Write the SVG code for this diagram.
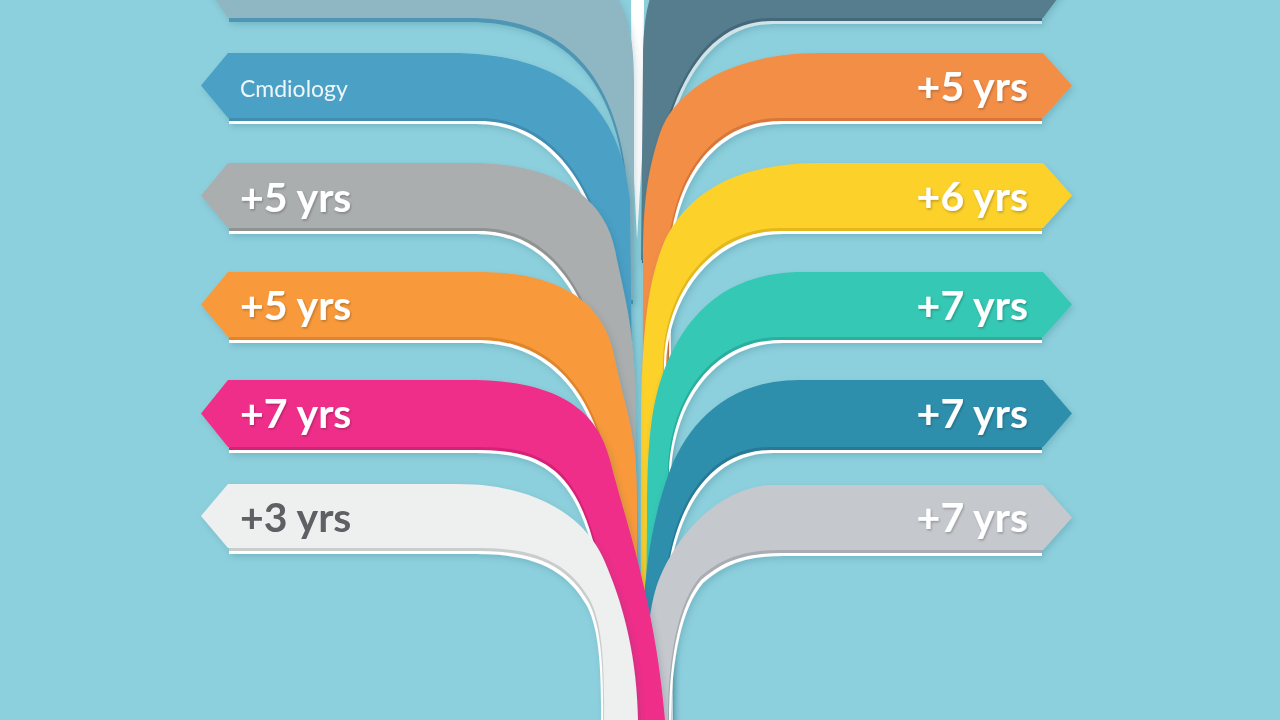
<svg xmlns="http://www.w3.org/2000/svg" xmlns:xlink="http://www.w3.org/1999/xlink" width="1280" height="720" viewBox="0 0 1280 720">
<style>
.lbl{font-family:Lato,"Open Sans","Liberation Sans",sans-serif;font-size:41px;font-weight:700;fill:#ffffff}
.small{font-size:23px;font-weight:400;fill:#eef6f9}
.dark{fill:#5e6063}
.hl{fill:#ffffff}
</style>
<defs>
<clipPath id="cL"><rect x="229" y="-100" width="600" height="900"/></clipPath>
<clipPath id="cR"><rect x="400" y="-100" width="642" height="900"/></clipPath>
<filter id="sh" x="-10%" y="-10%" width="120%" height="130%">
<feDropShadow dx="2" dy="3" stdDeviation="3" flood-color="#0a4a5a" flood-opacity="0.18"/>
</filter>
<filter id="tsh" x="-5%" y="-10%" width="110%" height="130%">
<feDropShadow dx="1" dy="1.5" stdDeviation="1" flood-color="#000" flood-opacity="0.25"/>
</filter>
<path id="pL0" d="M201,-21 L228,-60 L400,-60 C590,-60 634,-30 634,80 L634,300 L628,300 L628,200 C624,110 590,18 470,18 L228,18 Z"/>
<path id="pL1" d="M201,85.5 L228,53 L450,53 C560,53 620,100 630,200 L636,720 L614,720 L612,300 C608,200 560,118 480,118 L228,118 Z"/>
<path id="pL2" d="M201,195.5 L228,163 L470,163 C560,163 605,200 615,250 C625,300 636,330 636,420 L636,720 L612,720 L610,420 C606,330 570,228 480,228 L228,228 Z"/>
<path id="pL3" d="M201,304.5 L228,272 L480,272 C570,272 607,310 615,360 C625,410 637,430 637,500 L637,720 L614,720 L612,500 C608,420 570,337 480,337 L228,337 Z"/>
<path id="pL4" d="M201,413.5 L228,380 L470,380 C570,380 600,420 610,460 C625,520 655,600 665,720 L620,720 C615,620 600,540 580,500 C560,460 530,447 480,447 L228,447 Z"/>
<path id="pL5" d="M201,516 L228,484 L457,484 C540,484 590,520 607,567 C625,610 637,660 638,720 L604,720 C605,650 600,620 590,600 C570,565 540,548 480,548 L228,548 Z"/>
<path id="pR0" d="M1072,-21 L1043,-60 L760,-60 C670,-60 643,-30 643,60 L641,260 L650,260 C650,120 690,18 770,18 L1043,18 Z"/>
<path id="pR1" d="M1072,85.5 L1043,53 L820,53 C730,53 675,90 660,133 C648,170 643,200 643,260 L642,720 L668,720 L668,260 C670,180 710,118 780,118 L1043,118 Z"/>
<path id="pR2" d="M1072,195.5 L1043,163 L820,163 C740,163 690,190 665,240 C648,280 642,330 641,420 L641,720 L665,720 L663,360 C665,290 710,228 780,228 L1043,228 Z"/>
<path id="pR3" d="M1072,304.5 L1043,272 L803,272 C740,272 690,300 663,373 C650,410 647,450 647,520 L645,720 L670,720 L668,470 C670,400 710,337 780,337 L1043,337 Z"/>
<path id="pR4" d="M1072,413.5 L1043,380 L800,380 C730,380 690,420 670,470 C655,510 645,560 643,620 L643,720 L668,720 L665,590 C668,520 700,447 770,447 L1043,447 Z"/>
<path id="pR5" d="M1072,517.5 L1043,485 L767,485 C720,490 680,530 660,577 C650,600 645,640 643,720 L668,720 C668,650 680,600 700,577 C720,560 740,550 780,550 L1043,550 Z"/>
</defs>
<rect width="1280" height="720" fill="#8dd0dd"/>
<g id="connectors">
<path d="M631,0 L644,0 L643,140 L637,240 L632,140 Z" fill="#ffffff"/>
</g>
<g id="right0" filter="url(#sh)">
<g clip-path="url(#cR)">
<use xlink:href="#pR0" fill="#cfe3e8" transform="translate(3,6)"/>
<use xlink:href="#pR0" fill="#44687a" transform="translate(1,3)"/>
</g>
<use xlink:href="#pR0" fill="#577d8d"/>
</g>
<g id="right1" filter="url(#sh)">
<g clip-path="url(#cR)">
<use xlink:href="#pR1" class="hl" transform="translate(3,6)"/>
<use xlink:href="#pR1" fill="#d9773a" transform="translate(1,3)"/>
</g>
<use xlink:href="#pR1" fill="#f38e47"/>
<text class="lbl" x="1028" y="101" text-anchor="end" filter="url(#tsh)">+5 yrs</text>
</g>
<g id="right2" filter="url(#sh)">
<g clip-path="url(#cR)">
<use xlink:href="#pR2" class="hl" transform="translate(3,6)"/>
<use xlink:href="#pR2" fill="#e3b81f" transform="translate(1,3)"/>
</g>
<use xlink:href="#pR2" fill="#fbd12c"/>
<text class="lbl" x="1028" y="211" text-anchor="end" filter="url(#tsh)">+6 yrs</text>
</g>
<g id="right3" filter="url(#sh)">
<g clip-path="url(#cR)">
<use xlink:href="#pR3" class="hl" transform="translate(3,6)"/>
<use xlink:href="#pR3" fill="#2aae9d" transform="translate(1,3)"/>
</g>
<use xlink:href="#pR3" fill="#36c8b4"/>
<text class="lbl" x="1028" y="320" text-anchor="end" filter="url(#tsh)">+7 yrs</text>
</g>
<g id="right4" filter="url(#sh)">
<g clip-path="url(#cR)">
<use xlink:href="#pR4" class="hl" transform="translate(3,6)"/>
<use xlink:href="#pR4" fill="#277a95" transform="translate(1,3)"/>
</g>
<use xlink:href="#pR4" fill="#2f8fad"/>
<text class="lbl" x="1028" y="428" text-anchor="end" filter="url(#tsh)">+7 yrs</text>
</g>
<g id="right5" filter="url(#sh)">
<g clip-path="url(#cR)">
<use xlink:href="#pR5" class="hl" transform="translate(3,6)"/>
<use xlink:href="#pR5" fill="#a9adb3" transform="translate(1,3)"/>
</g>
<use xlink:href="#pR5" fill="#c5c8cd"/>
<text class="lbl" x="1028" y="532" text-anchor="end" filter="url(#tsh)">+7 yrs</text>
</g>
<g id="left0" filter="url(#sh)">
<g clip-path="url(#cL)">
<use xlink:href="#pL0" fill="#4f95b4" transform="translate(-1,4)"/>
</g>
<use xlink:href="#pL0" fill="#8fb7c3"/>
</g>
<g id="left1" filter="url(#sh)">
<g clip-path="url(#cL)">
<use xlink:href="#pL1" class="hl" transform="translate(-3,6)"/>
<use xlink:href="#pL1" fill="#3f8db0" transform="translate(-1,3)"/>
</g>
<use xlink:href="#pL1" fill="#4ca0c6"/>
<text class="lbl small" x="240" y="97">Cmdiology</text>
</g>
<g id="left2" filter="url(#sh)">
<g clip-path="url(#cL)">
<use xlink:href="#pL2" class="hl" transform="translate(-3,6)"/>
<use xlink:href="#pL2" fill="#8f9393" transform="translate(-1,3)"/>
</g>
<use xlink:href="#pL2" fill="#aaaeae"/>
<text class="lbl" x="240" y="212" filter="url(#tsh)">+5 yrs</text>
</g>
<g id="left3" filter="url(#sh)">
<g clip-path="url(#cL)">
<use xlink:href="#pL3" class="hl" transform="translate(-3,6)"/>
<use xlink:href="#pL3" fill="#e0852c" transform="translate(-1,3)"/>
</g>
<use xlink:href="#pL3" fill="#f89a3b"/>
<text class="lbl" x="240" y="320" filter="url(#tsh)">+5 yrs</text>
</g>
<g id="left4" filter="url(#sh)">
<g clip-path="url(#cL)">
<use xlink:href="#pL4" class="hl" transform="translate(-3,6)"/>
<use xlink:href="#pL4" fill="#d42476" transform="translate(-1,3)"/>
</g>
<use xlink:href="#pL4" fill="#ef2f8a"/>
<text class="lbl" x="240" y="428" filter="url(#tsh)">+7 yrs</text>
</g>
<g id="left5" filter="url(#sh)">
<g clip-path="url(#cL)">
<use xlink:href="#pL5" class="hl" transform="translate(-3,6)"/>
<use xlink:href="#pL5" fill="#c9cdcd" transform="translate(-1,3)"/>
</g>
<use xlink:href="#pL5" fill="#eef0f0"/>
<text class="lbl dark" x="240" y="532">+3 yrs</text>
</g>
</svg>
